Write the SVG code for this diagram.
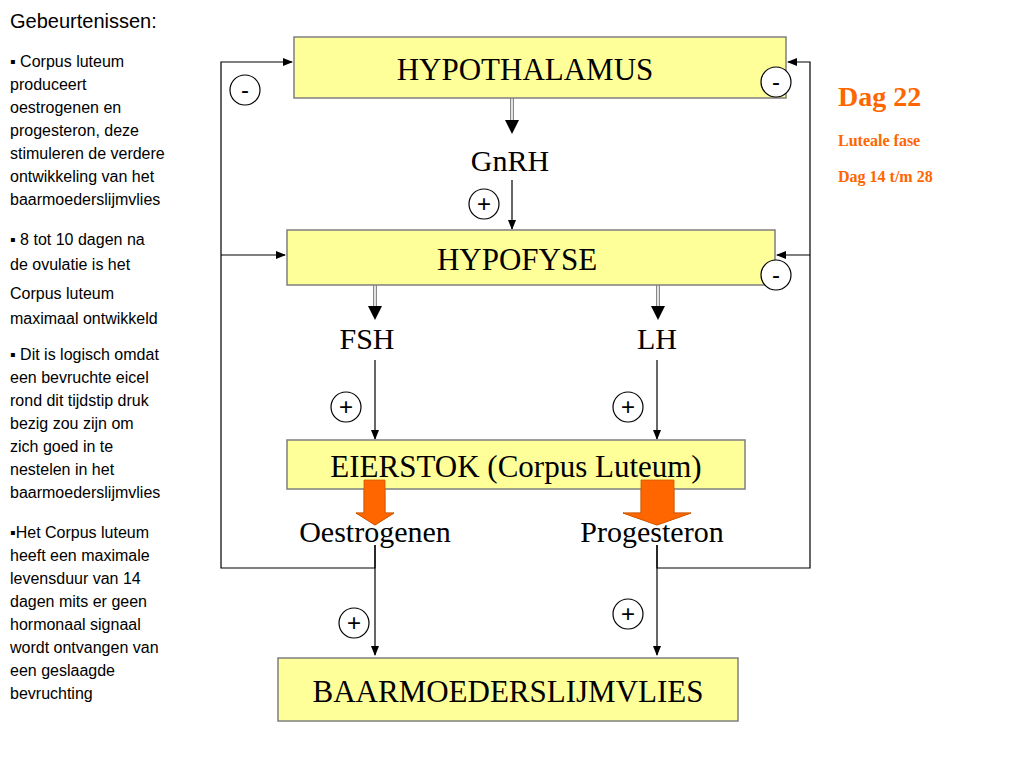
<svg xmlns="http://www.w3.org/2000/svg" width="1024" height="768" viewBox="0 0 1024 768">
<style>
.box{fill:#ffff99;stroke:#7f7f7f;stroke-width:1.5}
.bt{font-family:"Liberation Serif",serif;font-size:31px;text-anchor:middle;fill:#000}
.ht{font-family:"Liberation Serif",serif;font-size:30px;text-anchor:middle;fill:#000}
.ln{stroke:#000;stroke-width:1.2;fill:none}
.c{fill:#fff;stroke:#000;stroke-width:1.2}
.ct{font-family:"Liberation Sans",sans-serif;font-size:24px;text-anchor:middle}
.lt{font-family:"Liberation Sans",sans-serif;font-size:16px;fill:#000}
.r{font-family:"Liberation Serif",serif;font-weight:bold;fill:#ff6600}
.dbl{stroke:#888;stroke-width:4;fill:none}
.dbi{stroke:#fff;stroke-width:1.5;fill:none}
</style>
<defs>
<marker id="a" markerWidth="10" markerHeight="10" refX="9" refY="5" orient="auto" markerUnits="userSpaceOnUse"><path d="M0,1 L10,5 L0,9 z" fill="#000"/></marker>
<marker id="b" markerWidth="16" markerHeight="16" refX="14" refY="8" orient="auto" markerUnits="userSpaceOnUse"><path d="M0,1 L16,8 L0,15 z" fill="#000"/></marker>
</defs>
<g id="text-left" class="lt">
<text x="10" y="28" font-size="20">Gebeurtenissen:</text>
<text x="10" y="67">▪ Corpus luteum</text>
<text x="10" y="90">produceert</text>
<text x="10" y="113">oestrogenen en</text>
<text x="10" y="136">progesteron, deze</text>
<text x="10" y="159">stimuleren de verdere</text>
<text x="10" y="182">ontwikkeling van het</text>
<text x="10" y="205">baarmoederslijmvlies</text>
<text x="10" y="245">▪ 8 tot 10 dagen na</text>
<text x="10" y="270">de ovulatie is het</text>
<text x="10" y="299">Corpus luteum</text>
<text x="10" y="324">maximaal ontwikkeld</text>
<text x="10" y="360">▪ Dit is logisch omdat</text>
<text x="10" y="383">een bevruchte eicel</text>
<text x="10" y="406">rond dit tijdstip druk</text>
<text x="10" y="429">bezig zou zijn om</text>
<text x="10" y="452">zich goed in te</text>
<text x="10" y="475">nestelen in het</text>
<text x="10" y="498">baarmoederslijmvlies</text>
<text x="10" y="538">▪Het Corpus luteum</text>
<text x="10" y="561">heeft een maximale</text>
<text x="10" y="584">levensduur van 14</text>
<text x="10" y="607">dagen mits er geen</text>
<text x="10" y="630">hormonaal signaal</text>
<text x="10" y="653">wordt ontvangen van</text>
<text x="10" y="676">een geslaagde</text>
<text x="10" y="699">bevruchting</text>
</g>
<g id="text-right">
<text class="r" x="838" y="106" font-size="28">Dag 22</text>
<text class="r" x="838" y="146" font-size="16">Luteale fase</text>
<text class="r" x="838" y="182" font-size="16">Dag 14 t/m 28</text>
</g>
<g id="connectors">
<path class="ln" d="M375,545 V568 H221 V62 H292" marker-end="url(#a)"/>
<path class="ln" d="M221,255 H285" marker-end="url(#a)"/>
<path class="ln" d="M657,545 V568 H810 V62 H788" marker-end="url(#a)"/>
<path class="ln" d="M810,255 H777" marker-end="url(#a)"/>
<path class="ln" d="M512,180 V229" marker-end="url(#a)"/>
<path class="ln" d="M375,360 V439" marker-end="url(#a)"/>
<path class="ln" d="M657,360 V439" marker-end="url(#a)"/>
<path class="ln" d="M375,545 V655" marker-end="url(#a)"/>
<path class="ln" d="M657,545 V655" marker-end="url(#a)"/>
<g>
<path class="dbl" d="M512,98 V122"/><path class="dbi" d="M512,98 V122"/>
<path d="M505,120 L519,120 L512,134 z"/>
<path class="dbl" d="M375,285 V308"/><path class="dbi" d="M375,285 V308"/>
<path d="M368,306 L382,306 L375,320 z"/>
<path class="dbl" d="M658,285 V308"/><path class="dbi" d="M658,285 V308"/>
<path d="M651,306 L665,306 L658,320 z"/>
</g>
<path d="M364,480 H385 V513 H394 L375,525 L356,513 H364 z" fill="#ff6600" stroke="#cc5500" stroke-width="0.8"/>
<path d="M641,480 H674 V513 H691 L657,525 L623,513 H641 z" fill="#ff6600" stroke="#cc5500" stroke-width="0.8"/>
</g>
<g id="hypothalamus"><rect class="box" x="294" y="37" width="492" height="61"/><text class="bt" x="525" y="80">HYPOTHALAMUS</text></g>
<g id="hypofyse"><rect class="box" x="287" y="230" width="488" height="55"/><text class="bt" x="517" y="270">HYPOFYSE</text></g>
<g id="eierstok"><rect class="box" x="287" y="440" width="458" height="49"/><text class="bt" x="516" y="477">EIERSTOK (Corpus Luteum)</text></g>
<g id="baarmoeder"><rect class="box" x="278" y="658" width="460" height="63"/><text class="bt" x="508" y="702">BAARMOEDERSLIJMVLIES</text></g>
<path d="M364,480 H385 V513 H394 L375,525 L356,513 H364 z" fill="#ff6600" stroke="#cc5500" stroke-width="0.8"/>
<path d="M641,480 H674 V513 H691 L657,525 L623,513 H641 z" fill="#ff6600" stroke="#cc5500" stroke-width="0.8"/>
<g id="gnrh"><text class="ht" x="510" y="171">GnRH</text></g>
<g id="fsh"><text class="ht" x="367" y="349">FSH</text></g>
<g id="lh"><text class="ht" x="657" y="349">LH</text></g>
<g id="oestrogenen"><text class="ht" x="375" y="542">Oestrogenen</text></g>
<g id="progesteron"><text class="ht" x="652" y="542">Progesteron</text></g>
<g id="signs">
<circle class="c" cx="245" cy="90" r="15"/><text class="ct" x="245" y="98">-</text>
<circle class="c" cx="776" cy="82" r="15"/><text class="ct" x="776" y="90">-</text>
<circle class="c" cx="776" cy="275" r="15"/><text class="ct" x="776" y="283">-</text>
<circle class="c" cx="484" cy="204" r="15"/><text class="ct" x="484" y="212">+</text>
<circle class="c" cx="346" cy="407" r="15"/><text class="ct" x="346" y="415">+</text>
<circle class="c" cx="628" cy="407" r="15"/><text class="ct" x="628" y="415">+</text>
<circle class="c" cx="354" cy="623" r="15"/><text class="ct" x="354" y="631">+</text>
<circle class="c" cx="628" cy="614" r="15"/><text class="ct" x="628" y="622">+</text>
</g>
</svg>
